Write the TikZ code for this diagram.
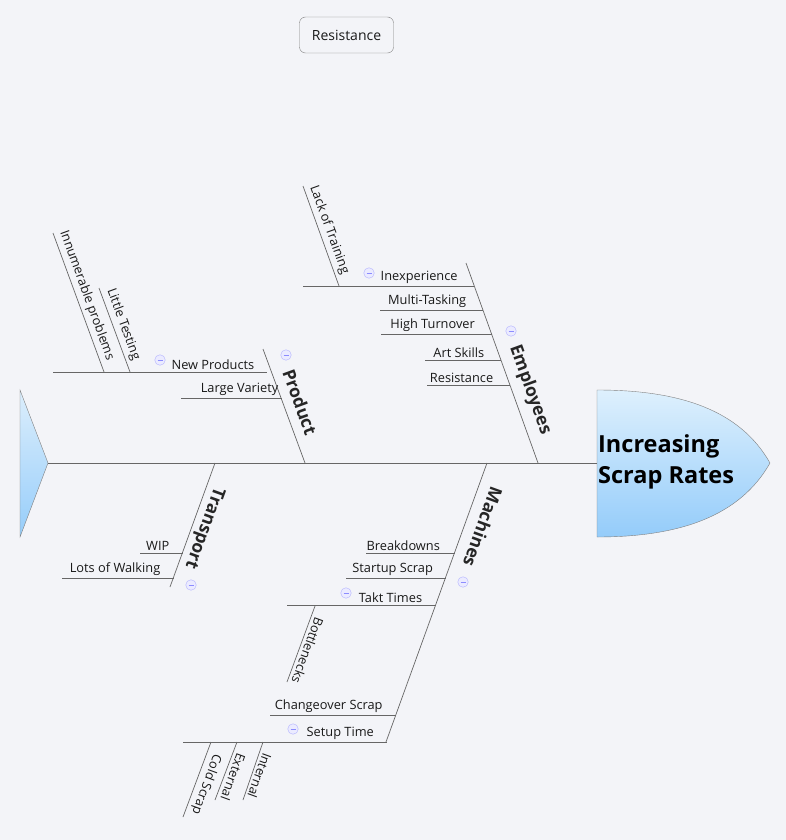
\documentclass[tikz,border=0pt]{standalone}
\usepackage{fontspec}
\setmainfont{Open Sans}
\begin{document}
\begin{tikzpicture}[x=1pt,y=-1pt,
  ln/.style={draw=black!60,line width=0.7pt},
  lbl/.style={font=\fontsize{12.8}{15}\selectfont,inner sep=2.5pt,text=black!90},
  big/.style={font=\fontsize{17.5}{20}\selectfont\bfseries,inner sep=2pt,text=black!85},
  mn/.style={circle,draw=blue!30,fill=blue!8,minimum size=10.5pt,inner sep=0pt,
    path picture={\draw[blue!45,line width=0.7pt] ([xshift=-2.5pt]path picture bounding box.center)--([xshift=2.5pt]path picture bounding box.center);}}]
\fill[fill={rgb,255:red,243;green,244;blue,248}] (0,0) rectangle (786,840);
\useasboundingbox (0,0) rectangle (786,840);
% Resistance box
\node[draw=black!50,rounded corners=6pt,minimum width=94pt,minimum height=36pt,lbl,font=\fontsize{14}{16}\selectfont] (res) at (346.5,35) {Resistance};
% tail & head
\coordinate (tail) at (48,463);
\coordinate (head) at (597,463);
\shade[top color={rgb,255:red,220;green,238;blue,252},bottom color={rgb,255:red,150;green,205;blue,250},draw=black!50] (20,390) -- (48,463) -- (20,537) -- cycle;
\shade[top color={rgb,255:red,222;green,240;blue,253},bottom color={rgb,255:red,148;green,204;blue,250},draw=black!50]
  (597,390) .. controls (680,390) and (740,410) .. (770,463) .. controls (740,516) and (680,537) .. (597,537) -- cycle;
\node[anchor=west,align=left,font=\fontsize{23.5}{31}\selectfont\bfseries,inner sep=0pt] (hd) at (598,462) {Increasing\\Scrap Rates};
\draw[ln] (tail) -- (head);
% bones
\coordinate (eB) at (538,463); \coordinate (eT) at (466,263);
\coordinate (pB) at (305,463); \coordinate (pT) at (263,349);
\coordinate (mT) at (487,463); \coordinate (mB) at (386,742);
\coordinate (tT) at (215,463); \coordinate (tB) at (170,587);
\draw[ln] (eB)--(eT); \draw[ln] (pB)--(pT); \draw[ln] (mT)--(mB); \draw[ln] (tT)--(tB);
\node[big,rotate=-70] (emp) at (530,390) {Employees};
\node[big,rotate=-70] (prod) at (300,402) {Product};
\node[big,rotate=-110] (mach) at (483,527) {Machines};
\node[big,rotate=-110] (trans) at (204,528) {Transport};
% Employees subs
\foreach \n/\y/\x/\t in {inex/286/303/Inexperience,mult/310/380/Multi-Tasking,high/334/381/High Turnover,art/360/425/Art Skills,res2/385/427/Resistance}{
  \pgfmathsetmacro{\bx}{538-0.36*(463-\y)}
  \draw[ln] (\x,\y) -- (\bx,\y);
  \node[lbl,anchor=south east] (\n) at (\bx-14,\y) {\t};
}
\draw[ln] (303,186) -- (339,286);
\node[lbl,rotate=-70,anchor=south east,inner sep=1.5pt] (lack) at (338,278) {Lack of Training};
% Product subs
\draw[ln] (53,372) -- (267.2,372);
\node[lbl,anchor=south east] (newp) at (257,372) {New Products};
\draw[ln] (181,398) -- (281.6,398);
\node[lbl,anchor=south east] (large) at (281,398) {Large Variety};
\draw[ln] (99,288) -- (130,372);
\node[lbl,rotate=-70,anchor=south east,inner sep=1.5pt] (little) at (129,364) {Little Testing};
\draw[ln] (53,233) -- (104,372);
\node[lbl,rotate=-70,anchor=south east,inner sep=1.5pt] (innu) at (103,364) {Innumerable problems};
% Machines subs
\foreach \n/\y/\x/\t/\r in {brk/553/366/Breakdowns/12,start/578/346/Startup Scrap/10,takt/605/287/Takt Times/11,chg/715/270/Changeover Scrap/11,setup/742/183/Setup Time/10}{
  \pgfmathsetmacro{\bx}{487-0.36*(\y-463)}
  \draw[ln] (\x,\y) -- (\bx,\y);
  \node[lbl,anchor=south east] (\n) at (\bx-\r,\y) {\t};
}
\draw[ln] (315,606) -- (287,682);
\node[lbl,rotate=-110,anchor=south west,inner sep=1.5pt] (bott) at (314,614) {Bottlenecks};
\draw[ln] (211,742) -- (183,817);
\node[lbl,rotate=-110,anchor=south west,inner sep=1.5pt] (cold) at (210,750) {Cold Scrap};
\draw[ln] (237,742) -- (215,800);
\node[lbl,rotate=-110,anchor=south west,inner sep=1.5pt] (ext) at (236,750) {External};
\draw[ln] (263,742) -- (243,800);
\node[lbl,rotate=-110,anchor=south west,inner sep=1.5pt] (int) at (262,750) {Internal};
% Transport subs
\draw[ln] (140,553) -- (182.6,553);
\node[lbl,anchor=south east] (wip) at (172,553) {WIP};
\draw[ln] (62,578) -- (173.6,578);
\node[lbl,anchor=south east] (walk) at (163,578) {Lots of Walking};
% collapse icons
\node[mn] (m1) at (369,273) {};
\node[mn] (m2) at (511,331) {};
\node[mn] (m3) at (160,360) {};
\node[mn] (m4) at (286,355) {};
\node[mn] (m5) at (463,582) {};
\node[mn] (m6) at (346,593) {};
\node[mn] (m7) at (293,729) {};
\node[mn] (m8) at (191,585) {};
\end{tikzpicture}
\end{document}
